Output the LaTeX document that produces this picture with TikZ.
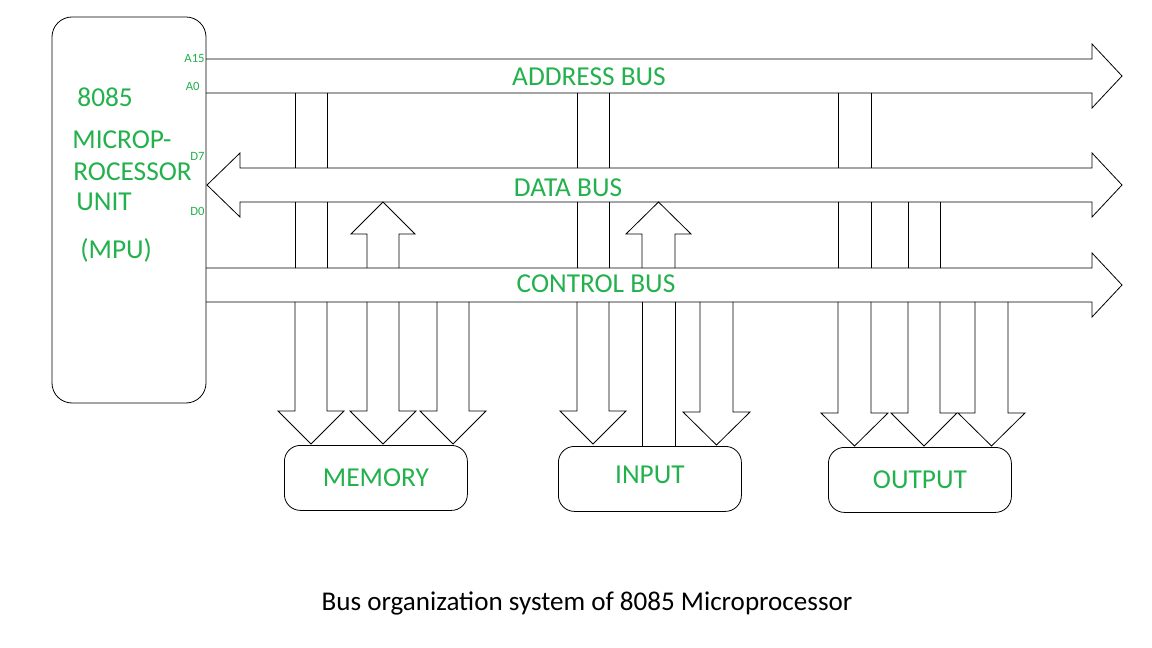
\documentclass[tikz,border=0pt]{standalone}
\usepackage{fontspec}
\setmainfont{Carlito}
\begin{document}
\begin{tikzpicture}[x=0.75pt,y=-0.75pt,line width=0.6pt,
  lbl/.style={text=grn,font=\fontsize{20.5}{22}\selectfont,inner sep=0},
  pin/.style={text=grn,font=\fontsize{9.5}{10}\selectfont,inner sep=0},
  unit/.style={draw,rounded corners=12pt,minimum width=183*0.75pt,minimum height=65*0.75pt,anchor=north west,inner sep=0}]
\definecolor{grn}{RGB}{34,177,76}
\useasboundingbox (0,0) rectangle (1152,648);
\newcommand\dnarr[4]{% x1 x2 ytop ybase
  \draw (#1,#3)--(#1,#4)--(#1-17,#4)--({(#1+#2)/2},#4+33)--(#2+17,#4)--(#2,#4)--(#2,#3);}
\newcommand\uparr[2]{% x1 x2 (control -> data)
  \draw (#1,268)--(#1,234)--(#1-16,234)--({(#1+#2)/2},202)--(#2+16,234)--(#2,234)--(#2,268);}
\newcommand\link[1]{\draw (#1,93)--(#1,168) (#1,202)--(#1,268);}
% MPU
\draw[rounded corners=15pt] (52,17) rectangle (206,403);
\node[lbl,anchor=west] (n1) at (77,97) {8085};
\node[lbl,anchor=west] (n2) at (72,140) {MICROP-};
\node[lbl,anchor=west] (n3) at (73,172) {ROCESSOR};
\node[lbl,anchor=west] (n4) at (76,202) {UNIT};
\node[lbl,anchor=west] (n5) at (80,250) {(MPU)};
\node[pin,anchor=east] (a15) at (205,58) {A15};
\node[pin,anchor=east] (a0) at (200,86) {A0};
\node[pin,anchor=east] (d7) at (205,156) {D7};
\node[pin,anchor=east] (d0) at (205,211) {D0};
% buses
\draw (206,59)--(1092,59)--(1092,44)--(1122,76)--(1092,108)--(1092,93)--(206,93);
\draw (1092,168)--(1092,153)--(1122,185)--(1092,217)--(1092,202)--(240,202)--(240,217)--(207,185)--(240,153)--(240,168)--cycle;
\draw (206,268)--(1092,268)--(1092,253)--(1122,285)--(1092,317)--(1092,302)--(206,302);
\node[lbl] (ab) at (589,77) {ADDRESS BUS};
\node[lbl] (db) at (568,188) {DATA BUS};
\node[lbl] (cb) at (596,284) {CONTROL BUS};
% memory
\link{295}\link{327}
\uparr{367}{399}
\dnarr{295}{327}{302}{411}
\dnarr{367}{399}{302}{411}
\dnarr{437}{469}{302}{411}
\node[unit] (mem) at (284,445) {};
\node[lbl] at (mem.center) {MEMORY};
% input
\link{577}\link{609}
\uparr{642}{675}
\dnarr{577}{609}{302}{411}
\draw (642,302)--(642,446) (675,302)--(675,446);
\dnarr{700}{733}{302}{412}
\node[unit] (inp) at (558,446) {};
\node[lbl] at ([yshift=3]inp.center) {INPUT};
% output
\link{838}\link{871}
\draw (908,202)--(908,268) (940,202)--(940,268);
\dnarr{838}{871}{302}{413}
\dnarr{908}{940}{302}{413}
\dnarr{975}{1008}{302}{413}
\node[unit] (out) at (828,447) {};
\node[lbl] at (out.center) {OUTPUT};
% caption
\node[font=\fontsize{20.3}{22}\selectfont,inner sep=0] (cap) at (587,603) {Bus organization system of 8085 Microprocessor};
\end{tikzpicture}
\end{document}
